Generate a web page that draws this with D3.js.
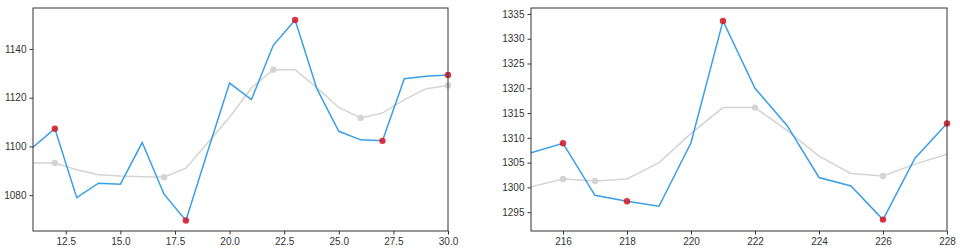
<!doctype html>
<html lang="en">
<head>
<meta charset="utf-8" />
<title>Price with smoothed trend and turning points</title>
<script src="https://cdn.jsdelivr.net/npm/d3@7"></script>
<style>
	body { margin: 0; background: #fff; }
	svg { display: block; font-family: "DejaVu Sans", sans-serif; }
	.tick text { fill: #333; font-size: 10px; }
	.tick line { stroke: #333; }
</style>
</head>
<body>
<div id="chart"></div>
<script>
	// left panel: days 11..30
	const leftX = d3.range(11, 31);
	const leftPrice = [1099.7, 1107.3, 1079, 1084.9, 1084.5, 1101.6, 1080.4, 1069.6, 1098, 1126,
		1119.2, 1141.5, 1151.9, 1123.6, 1106.2, 1102.7, 1102.3, 1127.8, 1128.8, 1129.3];
	const leftSmooth = [1093.2, 1093.2, 1090.4, 1088.4, 1087.9, 1087.6, 1087.4, 1091.1, 1101.5, 1112,
		1124, 1131.5, 1131.5, 1124, 1116, 1111.7, 1113.7, 1119.2, 1123.7, 1125];
	const leftRed = [12, 18, 23, 27, 30];
	const leftGray = [12, 17, 22, 26, 30];
	const leftYTicks = [1080, 1100, 1120, 1140];
	const leftXTicks = [12.5, 15, 17.5, 20, 22.5, 25, 27.5, 30];

	// right panel: days 215..228
	const rightX = d3.range(215, 229);
	const rightPrice = [1307, 1308.9, 1298.4, 1297.2, 1296.2, 1309, 1333.6, 1320, 1312.5, 1302,
		1300.3, 1293.5, 1305.9, 1312.9];
	const rightSmooth = [1300.1, 1301.7, 1301.3, 1301.7, 1305, 1310.9, 1316.1, 1316.1, 1311.5, 1306.3,
		1302.8, 1302.3, 1304.7, 1306.7];
	const rightRed = [216, 218, 221, 226, 228];
	const rightGray = [216, 217, 222, 226];
	const rightYTicks = [1295, 1300, 1305, 1310, 1315, 1320, 1325, 1330, 1335];
	const rightXTicks = [216, 218, 220, 222, 224, 226, 228];

	const W = 960, H = 251;
	const svg = d3.select("#chart").append("svg").attr("width", W).attr("height", H);

	function panel(opt) {
		const x = d3.scaleLinear().domain(opt.xDomain).range([opt.left, opt.right]);
		const y = d3.scaleLinear().domain(opt.yDomain).range([231, 8]);
		const g = svg.append("g");
		const pts = opt.xs.map((d, i) => ({ x: d, p: opt.price[i], s: opt.smooth[i] }));
		const clipId = "clip" + opt.left;
		g.append("clipPath").attr("id", clipId)
			.append("rect").attr("x", opt.left).attr("y", 8)
			.attr("width", opt.right - opt.left).attr("height", 223);
		const plot = g.append("g").attr("clip-path", `url(#${clipId})`);

		plot.append("path").datum(pts)
			.attr("fill", "none").attr("stroke", "#d4d4d4").attr("stroke-width", 1.5)
			.attr("d", d3.line().x((d) => x(d.x)).y((d) => y(d.s)));
		plot.append("path").datum(pts)
			.attr("fill", "none").attr("stroke", "#3a9fe5").attr("stroke-width", 1.5)
			.attr("d", d3.line().x((d) => x(d.x)).y((d) => y(d.p)));

		g.append("g").selectAll("circle")
			.data(pts.filter((d) => opt.gray.includes(d.x)))
			.join("circle")
			.attr("cx", (d) => x(d.x)).attr("cy", (d) => y(d.s)).attr("r", 3.2)
			.attr("fill", "#d4d4d4");
		g.append("g").selectAll("circle")
			.data(pts.filter((d) => opt.red.includes(d.x)))
			.join("circle")
			.attr("cx", (d) => x(d.x)).attr("cy", (d) => y(d.p)).attr("r", 3.2)
			.attr("fill", "#d61f2c").attr("fill-opacity", 0.9);

		g.append("rect")
			.attr("x", opt.left).attr("y", 8)
			.attr("width", opt.right - opt.left).attr("height", 223)
			.attr("fill", "none").attr("stroke", "#333").attr("stroke-width", 1);

		g.append("g").attr("transform", "translate(0,231)")
			.call(d3.axisBottom(x).tickValues(opt.xTicks).tickFormat(opt.xFormat).tickSize(3.5).tickPadding(3))
			.call((a) => a.select(".domain").remove());
		g.append("g").attr("transform", `translate(${opt.left},0)`)
			.call(d3.axisLeft(y).tickValues(opt.yTicks).tickFormat(d3.format("d")).tickSize(3.5).tickPadding(3))
			.call((a) => a.select(".domain").remove());
	}

	panel({
		left: 33, right: 448, xDomain: [11, 30], yDomain: [1065.3, 1156.8],
		xs: leftX, price: leftPrice, smooth: leftSmooth, red: leftRed, gray: leftGray,
		xTicks: leftXTicks, yTicks: leftYTicks, xFormat: d3.format(".1f")
	});
	panel({
		left: 531, right: 947, xDomain: [215, 228], yDomain: [1291.2, 1336.2],
		xs: rightX, price: rightPrice, smooth: rightSmooth, red: rightRed, gray: rightGray,
		xTicks: rightXTicks, yTicks: rightYTicks, xFormat: d3.format("d")
	});
</script>
</body>
</html>
